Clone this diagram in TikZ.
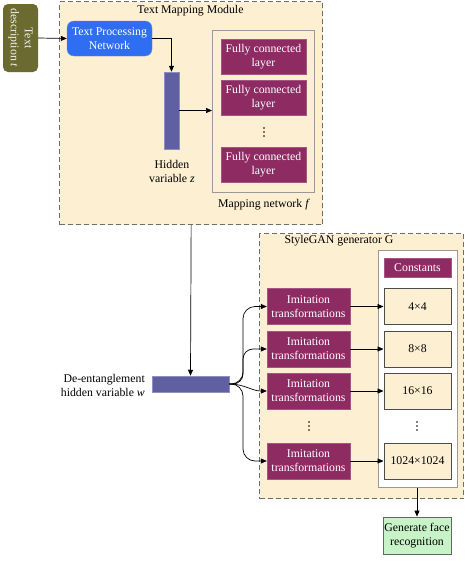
\documentclass[tikz,border=0pt]{standalone}
\usepackage{fontspec}
\setmainfont{Liberation Serif}
\usetikzlibrary{arrows.meta}
\definecolor{beige}{HTML}{FDEFD2}
\definecolor{dashgray}{HTML}{6E6E6E}
\definecolor{plum}{HTML}{8E2B63}
\definecolor{olive}{HTML}{6B6A30}
\definecolor{tpnblue}{HTML}{2F6EF2}
\definecolor{slate}{HTML}{5F5FA2}
\definecolor{mint}{HTML}{C8F3C8}
\begin{document}
\begin{tikzpicture}[x=1pt,y=-1pt,
  font=\fontsize{11.8}{14}\selectfont,
  dashbox/.style={draw=dashgray, line width=1.3pt, dash pattern=on 5pt off 3pt, fill=beige, inner sep=0},
  plainbox/.style={draw=gray!80, line width=0.8pt, inner sep=0},
  plumbox/.style={fill=plum, draw=plum!80!white, line width=0.4pt, text=white, align=center, inner sep=0},
  sizebox/.style={fill=beige, draw=black!70, line width=1pt, inner sep=0, align=center},
  arr/.style={-{Triangle[length=6pt,width=5pt]}, line width=0.7pt, draw=black},
  lbl/.style={align=center, inner sep=0},
  vdot/.style={fill=black, draw=none, circle, inner sep=0, minimum size=1.8pt}
]
\useasboundingbox (0,0) rectangle (474,565);

% Text description
\node[fill=olive, rounded corners=5pt, minimum width=35, minimum height=68, inner sep=0] (td) at (20.5,38) {};
\node[rotate=-90, text=white!92!olive, align=center, inner sep=0] (tdl) at (td.center) {Text\\description \textit{t}};

% Text Mapping Module
\node[dashbox, minimum width=263, minimum height=223, anchor=north west] (tmm) at (59,1) {};
\node[lbl] (tmmt) at (190.5,10.5) {Text Mapping Module};
\node[fill=tpnblue, draw=tpnblue!80!white, rounded corners=7pt, minimum width=85, minimum height=35, text=white, align=center, inner sep=0] (tpn) at (109.5,38.5) {Text Processing\\Network};
\node[fill=slate, draw=slate!70!white, line width=0.5pt, minimum width=15, minimum height=77, inner sep=0] (hz) at (171.5,110.5) {};
\node[lbl] (hzl) at (172,171) {Hidden\\variable \textit{z}};

\node[plainbox, fill=beige, minimum width=102, minimum height=162, anchor=north west] (map) at (212,30) {};
\node[plumbox, minimum width=85, minimum height=35] (fc1) at (263.5,57) {Fully connected\\layer};
\node[plumbox, minimum width=85, minimum height=35] (fc2) at (263.5,98) {Fully connected\\layer};
\foreach \d in {-4,0,4} \node[vdot] at (264,132+\d) {};
\node[plumbox, minimum width=85, minimum height=35] (fc3) at (263.5,165) {Fully connected\\layer};
\node[lbl] (mapl) at (264,205) {Mapping network \textit{f}};

\draw[arr] (td.east) -- (tpn.west);
\draw[arr] (tpn.east) -| (hz.north);
\draw[arr] (hz.east) -- (hz.east -| map.west);

% w
\node[fill=slate, draw=slate!70!white, line width=0.5pt, minimum width=77, minimum height=16, inner sep=0] (w) at (190.5,384) {};
\node[align=right, anchor=east, inner sep=0] (wl) at (145,385.5) {De-entanglement\\hidden variable \textit{w}};
\draw[arr] (tmm.south) -- (w.north);

% StyleGAN generator
\node[dashbox, minimum width=204, minimum height=265, anchor=north west] (sg) at (259,233) {};
\node[lbl] (sgt) at (339,240.5) {StyleGAN generator G};
\node[plainbox, fill=white, minimum width=79, minimum height=237, anchor=north west] (col) at (378,250) {};
\node[plumbox, minimum width=67, minimum height=19] (const) at (417.5,267.5) {Constants};
\node[sizebox, minimum width=67, minimum height=36] (s1) at (417.5,306.5) {4×4};
\node[sizebox, minimum width=67, minimum height=36] (s2) at (417.5,349) {8×8};
\node[sizebox, minimum width=67, minimum height=36] (s3) at (417.5,391) {16×16};
\foreach \d in {-4,0,4} \node[vdot] at (417,426+\d) {};
\node[sizebox, minimum width=67, minimum height=36] (s4) at (417.5,461) {1024×1024};

\node[plumbox, minimum width=83, minimum height=36] (im1) at (308.5,306.5) {Imitation\\transformations};
\node[plumbox, minimum width=83, minimum height=36] (im2) at (308.5,349) {Imitation\\transformations};
\node[plumbox, minimum width=83, minimum height=36] (im3) at (308.5,391) {Imitation\\transformations};
\foreach \d in {-4,0,4} \node[vdot] at (309,426+\d) {};
\node[plumbox, minimum width=83, minimum height=36] (im4) at (308.5,461) {Imitation\\transformations};

\foreach \i in {1,2,3,4}{\draw[arr] (im\i.east) -- (s\i.west);}

\coordinate (f1) at (243,306.5);
\coordinate (f2) at (243,349);
\coordinate (f4) at (243,461);
\draw[arr, rounded corners=12pt] (w.east) -| (f1) -- (im1.west);
\draw[arr, rounded corners=10pt] (w.east) -| (f2) -- (im2.west);
\draw[arr] (w.east) to[out=0,in=180] (im3.west);
\draw[arr, rounded corners=12pt] (w.east) -| (f4) -- (im4.west);

% output
\node[fill=mint, draw=black!60, line width=0.8pt, minimum width=68, minimum height=37, align=center, inner sep=0] (gen) at (417,535.5) {Generate face\\recognition};
\draw[arr] (col.south -| gen.north) -- (gen.north);
\end{tikzpicture}
\end{document}
